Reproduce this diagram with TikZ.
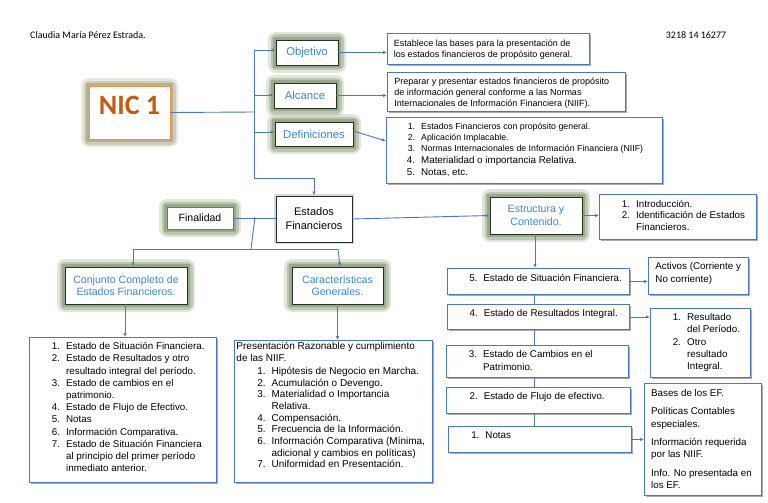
\documentclass[tikz,border=0pt]{standalone}
\usepackage{fontspec}
\setmainfont{Liberation Sans}
\newfontfamily\calib{Carlito}
\usetikzlibrary{arrows.meta,shadows}
\definecolor{lblue}{HTML}{4A78C8}
\definecolor{tblue}{HTML}{3B86D6}
\definecolor{glowg}{HTML}{879B73}
\definecolor{glowt}{HTML}{A9A47E}
\definecolor{nicor}{HTML}{C55A11}
\definecolor{nicbd}{HTML}{F0914A}
\definecolor{darkbd}{HTML}{2B2B2B}
\newcommand{\fA}{\fontsize{9}{10.7}\selectfont}
\newcommand{\fB}{\fontsize{9.8}{12.2}\selectfont}
\newcommand{\fC}{\fontsize{10}{11.7}\selectfont}
\newcommand{\fD}{\fontsize{8.8}{11}\selectfont}
\newcommand{\fE}{\fontsize{9.8}{12}\selectfont}
\newcommand{\fF}{\fontsize{9.8}{12.3}\selectfont}
\newcommand{\li}[3]{\par\hangindent=#1\hangafter=1\noindent\makebox[#1][r]{#2.\hspace{6pt}}\strut#3\par}
\newcommand{\bxc}[5]{\begin{minipage}[t][#2][t]{#1}\raggedright\leftskip=#3\relax\vspace*{#4}#5\end{minipage}}
\begin{document}
\begin{tikzpicture}[x=1pt,y=-1pt,
  conn/.style={draw=lblue,line width=0.9pt},
  arr/.style={conn,-{Latex[length=4pt,width=3.4pt]}},
  glow/.style={preaction={draw=#1,line width=16pt,opacity=0.25,line join=round},
               preaction={draw=#1,line width=11pt,opacity=0.4,line join=round},
               preaction={draw=#1,line width=6pt,opacity=0.65}},
  lbl/.style={draw=darkbd,line width=0.8pt,fill=white,inner sep=0pt,align=center,text=tblue,
              font=\fontsize{11.3}{13.5}\selectfont},
  tbox/.style={draw=lblue,line width=0.9pt,fill=white,inner sep=0pt,anchor=north west,
               drop shadow={shadow xshift=1.3pt,shadow yshift=-1.3pt,fill=black!55,opacity=0.6}},
  hdr/.style={font=\calib\fontsize{10}{12}\selectfont,anchor=base west,inner sep=0pt}]
\fill[white] (0,0) rectangle (768,503);
\useasboundingbox (0,0) rectangle (768,503);

\node[hdr] (hdr1) at (30,38.2) {Claudia María Pérez Estrada.};
\node[hdr] (hdr2) at (665.7,38.2) {3218 14 16277};

% left column labels
\node[lbl,glow=glowt,draw=nicbd,line width=1pt,minimum width=81pt,minimum height=53pt,text=nicor,
      text depth=14pt,font=\calib\bfseries\fontsize{28}{30}\selectfont] (nic) at (129.5,112.5) {NIC 1};
\node[lbl,glow=glowg,minimum width=62pt,minimum height=25pt] (obj) at (307,52.5) {Objetivo};
\node[lbl,glow=glowg,minimum width=62pt,minimum height=25pt] (alc) at (305,95.5) {Alcance};
\node[lbl,glow=glowg,minimum width=78pt,minimum height=24pt] (def) at (314,134) {Definiciones};

\node[tbox] (t1) at (387,33) {\bxc{202pt}{31pt}{6.3pt}{5.5pt}{\fA\strut Establece las bases para la presentación de\newline los estados financieros de propósito general.}};
\node[tbox] (t2) at (387,72) {\bxc{238pt}{39pt}{7pt}{4.8pt}{\fA\strut Preparar y presentar estados financieros de propósito\newline de información general conforme a las Normas\newline Internacionales de Información Financiera (NIIF).}};
\node[tbox] (t3) at (386,117) {\bxc{276pt}{66pt}{4pt}{4.5pt}{\fD
  \li{30.7pt}{1}{Estados Financieros con propósito general.}
  \li{30.7pt}{2}{Aplicación Implacable.}
  \li{30.7pt}{3}{Normas Internacionales de Información Financiera (NIIF)}
  \fE
  \li{30.7pt}{4}{Materialidad o importancia Relativa.}
  \li{30.7pt}{5}{Notas, etc.}}};

% Estados financieros
\node[lbl,draw=darkbd,line width=1pt,text=black,minimum width=76pt,minimum height=46pt,
      preaction={draw=black!25,line width=4pt,opacity=0.6},
      font=\fontsize{11}{14}\selectfont] (est) at (314,219) {Estados\\Financieros};
\node[lbl,glow=glowg,draw=lblue,text=black,minimum width=66pt,minimum height=22pt,
      font=\fontsize{10.5}{12}\selectfont] (fin) at (200,218) {Finalidad};
\node[lbl,glow=glowg,minimum width=122pt,minimum height=37pt,
      font=\fontsize{10.6}{12.2}\selectfont] (conj) at (126,285.5) {Conjunto Completo de\\Estados Financieros.};
\node[lbl,glow=glowg,minimum width=91pt,minimum height=37pt,
      font=\fontsize{10.6}{12.2}\selectfont] (car) at (337.5,285.5) {Características\\Generales.};

\node[tbox] (l1) at (29,337) {\bxc{187pt}{145pt}{4pt}{3.7pt}{\fB
  \li{32.7pt}{1}{Estado de Situación Financiera.}
  \li{32.7pt}{2}{Estado de Resultados y otro\newline resultado integral del período.}
  \li{32.7pt}{3}{Estado de cambios en el\newline patrimonio.}
  \li{32.7pt}{4}{Estado de Flujo de Efectivo.}
  \li{32.7pt}{5}{Notas}
  \li{32.7pt}{6}{Información Comparativa.}
  \li{32.7pt}{7}{Estado de Situación Financiera\newline al principio del primer período\newline inmediato anterior.}}};
\node[tbox] (l2) at (234,340) {\bxc{198pt}{142pt}{2pt}{1.3pt}{\fC
  \strut Presentación Razonable y cumplimiento\newline de las NIIF.\par\vspace{1pt}
  \li{35.2pt}{1}{Hipótesis de Negocio en Marcha.}
  \li{35.2pt}{2}{Acumulación o Devengo.}
  \li{35.2pt}{3}{Materialidad o Importancia\newline Relativa.}
  \li{35.2pt}{4}{Compensación.}
  \li{35.2pt}{5}{Frecuencia de la Información.}
  \li{35.2pt}{6}{Información Comparativa (Mínima,\newline adicional y cambios en políticas)}
  \li{35.2pt}{7}{Uniformidad en Presentación.}}};

% right column
\node[lbl,glow=glowg,minimum width=92pt,minimum height=37pt,
      font=\fontsize{10.6}{12.2}\selectfont] (estr) at (536,215.5) {Estructura y\\Contenido.};
\node[tbox] (intro) at (599,194) {\bxc{157pt}{45pt}{4pt}{4.6pt}{\fontsize{9.8}{11.7}\selectfont
  \li{32.7pt}{1}{Introducción.}
  \li{32.7pt}{2}{Identificación de Estados\newline Financieros.}}};

\node[tbox] (s5) at (447,268) {\bxc{182pt}{26pt}{4pt}{4.8pt}{\fE\li{32pt}{5}{Estado de Situación Financiera.}}};
\node[tbox] (s4) at (447,304) {\bxc{182pt}{25pt}{4pt}{4.1pt}{\fE\li{32.3pt}{4}{Estado de Resultados Integral.}}};
\node[tbox] (s3) at (446,345) {\bxc{182pt}{32pt}{4pt}{3.4pt}{\fontsize{9.8}{12.7}\selectfont\li{32.7pt}{3}{Estado de Cambios en el\newline Patrimonio.}}};
\node[tbox] (s2) at (446,387) {\bxc{184pt}{26pt}{4pt}{3.8pt}{\fE\li{33.3pt}{2}{Estado de Flujo de efectivo.}}};
\node[tbox] (s1) at (448,426) {\bxc{183pt}{26pt}{4pt}{3.4pt}{\fE\li{33pt}{1}{Notas}}};

\node[tbox] (act) at (648,257) {\bxc{100pt}{37pt}{7pt}{3.9pt}{\fF\strut Activos (Corriente y\newline No corriente)}};
\node[tbox] (res) at (650,308) {\bxc{100pt}{69pt}{4pt}{3.6pt}{\fF
  \li{32.7pt}{1}{Resultado\newline del Período.}
  \li{32.7pt}{2}{Otro\newline resultado\newline Integral.}}};
\node[tbox] (bas) at (644,383) {\bxc{117pt}{112pt}{6.7pt}{4.6pt}{\fF
  \strut Bases de los EF.\par\vspace{6pt}
  \strut Políticas Contables\newline especiales.\par\vspace{6pt}
  \strut Información requerida\newline por las NIIF.\par\vspace{6pt}
  \strut Info. No presentada en\newline los EF.}};

% connectors
\coordinate (jn) at (254,112);
\coordinate (jt) at (254,50);
\coordinate (ja) at (254,95);
\coordinate (jd) at (254,132);
\coordinate (jb) at (254,178);
\draw[conn] (nic.east) -- (jn);
\draw[conn] (jt) -- (jb);
\draw[arr] (jt) -- (obj.west |- jt);
\draw[arr] (ja) -- (alc.west |- ja);
\draw[arr] (jd) -- (def.west |- jd);
\draw[arr] (jb) -| (est.north);
\draw[arr] (obj.east) -- (t1.west |- obj.east);
\draw[arr] (alc.east) -- (t2.west |- alc.east);
\coordinate (c3) at (386,141);
\draw[arr] ([yshift=3pt]def.east) -- (c3);

\draw[conn] (fin.east) -- (est.west |- fin.east);
\coordinate (fj) at (255,217);
\coordinate (fk) at (251,249);
\coordinate (hl) at (133,249);
\coordinate (hr) at (338,249);
\draw[conn] (fj) -- (fk);
\draw[conn] (hl) -- (hr);
\draw[arr] (hl) -- (hl |- conj.north);
\draw[arr] (hr) -- ([xshift=2pt]hr |- car.north);
\draw[arr] ([xshift=-1pt]conj.south) -- ([xshift=-1pt]conj.south |- l1.north);
\draw[arr] (car.south) -- (car.south |- l2.north);

\draw[arr] (est.east) -- (estr.west);
\draw[arr] (estr.east) -- (intro.west |- estr.east);
\draw[arr] ([xshift=-1pt]estr.south) -- ([xshift=-1pt]estr.south |- s5.north);
\coordinate (sx) at (534,0);
\draw[conn] (sx |- s5.south) -- (sx |- s4.north);
\draw[conn] (sx |- s4.south) -- (sx |- s3.north);
\draw[conn] (sx |- s3.south) -- (sx |- s2.north);
\draw[conn] (sx |- s2.south) -- (sx |- s1.north);
\draw[arr] (s5.east) -- (act.west |- s5.east);
\draw[arr] (s4.east) -- (res.west |- s4.east);
\draw[arr] (s1.east) -- (bas.west |- s1.east);
\end{tikzpicture}
\end{document}
